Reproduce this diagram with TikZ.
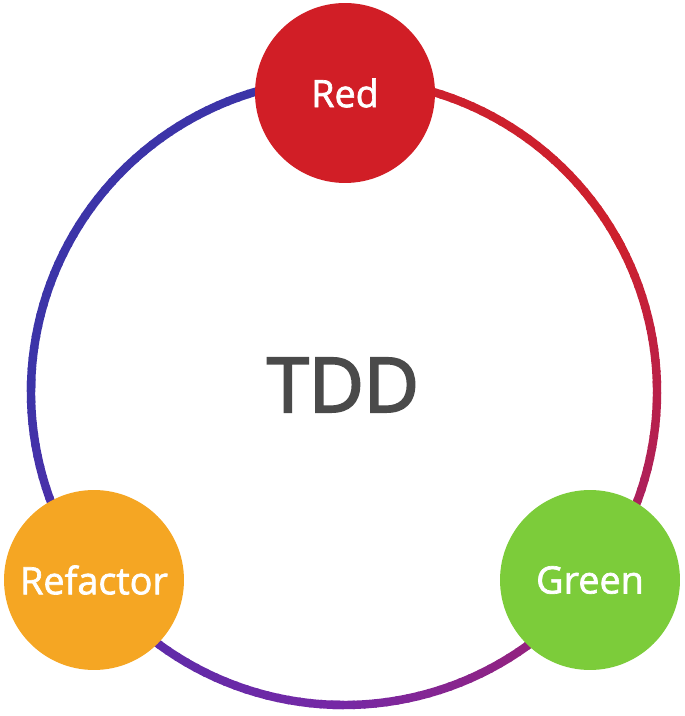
\documentclass[tikz,border=0pt]{standalone}
\usepackage{fontspec}
\setmainfont{Open Sans}
\newfontfamily\heavysans[FakeBold=1.8]{Open Sans}
\newfontfamily\titlesans[FakeBold=2.8]{Open Sans}

\definecolor{redph}{RGB}{209,30,38}
\definecolor{greenph}{RGB}{124,204,58}
\definecolor{orangeph}{RGB}{245,166,35}
\definecolor{tddgray}{RGB}{74,74,74}
\definecolor{ringred}{RGB}{205,32,45}
\definecolor{ringmag}{RGB}{160,32,110}
\definecolor{ringpur}{RGB}{118,40,165}
\definecolor{ringvio}{RGB}{85,45,170}
\definecolor{ringblu}{RGB}{60,52,168}

\begin{document}
\begin{tikzpicture}[x=0.02cm, y=0.02cm,
  ring/.style  ={line width=4.8pt, line cap=butt},
  phase/.style ={circle, minimum size=3.6cm, inner sep=0pt, text=white,
                 font=\heavysans\fontsize{21.5}{25}\selectfont},
  title/.style ={text=tddgray, font=\titlesans\fontsize{43}{50}\selectfont}]

  \useasboundingbox (0,0) rectangle (685,716);
  \coordinate (ctr) at (344,324);

  % ---------------- cycle ring, colour runs red -> purple -> blue ----------------
  \foreach \ta/\tb/\ca/\cb in {0/60/ringred/ringred, 60/128/ringred/ringmag,
      128/180/ringmag/ringpur, 180/232/ringpur/ringvio,
      232/270/ringvio/ringblu, 270/360/ringblu/ringblu}{
    \pgfmathtruncatemacro\tn{\ta+2}
    \foreach \t in {\ta,\tn,...,\tb}{
      \pgfmathtruncatemacro\p{100*(\tb-\t)/(\tb-\ta)}
      \draw[ring, draw=\ca!\p!\cb] (ctr) ++(90-\t:313)
        arc[start angle=90-\t, end angle=90-\t-2.4, radius=313];
    }
  }

  % ---------------- phases ----------------
  \node[phase, fill=redph]    (red)      at (345,623) {Red};
  \node[phase, fill=greenph]  (green)    at (590,136) {Green};
  \node[phase, fill=orangeph] (refactor) at (94,136)  {Refactor};

  % ---------------- centre label ----------------
  \node[title] (tdd) at (343,331) {TDD};
\end{tikzpicture}
\end{document}
